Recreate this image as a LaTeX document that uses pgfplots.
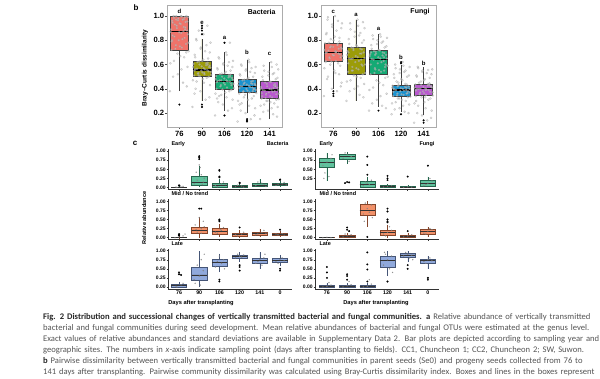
\documentclass[border=0pt]{standalone}
\usepackage{fontspec}
\usepackage{pgfplots}
\usepackage{pgfplotstable}
\pgfplotsset{compat=1.18}
\usepgfplotslibrary{statistics}
\newfontfamily\figfont{Liberation Sans}
\newfontfamily\capfont{Carlito}
\newcommand{\fb}[1]{\figfont\bfseries\fontsize{#1}{#1}\selectfont}
\definecolor{cR}{HTML}{F0736A}
\definecolor{cO}{HTML}{9C9C08}
\definecolor{cG}{HTML}{14AA74}
\definecolor{cB}{HTML}{1892D0}
\definecolor{cP}{HTML}{BA58D0}
\definecolor{eG}{HTML}{45B88C}
\definecolor{mO}{HTML}{F07E4F}
\definecolor{lB}{HTML}{7D9AD6}
\definecolor{capgray}{HTML}{555555}

\pgfplotstableread{
o b1 b2 b3 b4 b5 f1 f2 f3 f4 f5
-0.42 0.38 0.25 0.18 0.13 0.15 0.34 0.30 0.22 0.19 0.12
0.16 0.45 0.31 0.22 0.15 0.19 0.38 0.35 0.26 0.21 0.14
-0.07 0.52 0.38 0.27 0.20 0.22 0.40 0.40 0.31 0.24 0.18
0.36 0.58 0.43 0.31 0.24 0.25 0.45 0.44 0.36 0.27 0.22
-0.24 0.63 0.46 0.34 0.28 0.27 0.50 0.47 0.41 0.29 0.26
0.04 0.67 0.48 0.37 0.31 0.29 0.55 0.50 0.45 0.31 0.29
0.30 0.70 0.50 0.39 0.34 0.31 0.59 0.52 0.49 0.33 0.32
-0.35 0.72 0.51 0.40 0.36 0.32 0.62 0.54 0.52 0.34 0.34
0.11 0.74 0.52 0.41 0.37 0.33 0.63 0.56 0.54 0.35 0.35
-0.16 0.76 0.53 0.43 0.38 0.35 0.65 0.58 0.57 0.36 0.36
0.40 0.78 0.54 0.44 0.39 0.36 0.67 0.60 0.59 0.37 0.37
-0.03 0.80 0.55 0.45 0.40 0.37 0.68 0.62 0.61 0.38 0.38
0.23 0.82 0.555 0.46 0.41 0.38 0.69 0.64 0.63 0.39 0.39
-0.30 0.84 0.56 0.465 0.42 0.39 0.70 0.65 0.645 0.395 0.40
0.08 0.86 0.57 0.47 0.425 0.395 0.71 0.66 0.65 0.40 0.405
-0.39 0.87 0.58 0.48 0.43 0.40 0.72 0.68 0.67 0.41 0.41
0.34 0.88 0.59 0.49 0.44 0.41 0.74 0.70 0.68 0.42 0.42
-0.11 0.90 0.60 0.50 0.45 0.42 0.75 0.72 0.69 0.43 0.43
0.19 0.91 0.61 0.51 0.46 0.43 0.77 0.73 0.70 0.44 0.44
-0.20 0.93 0.62 0.52 0.47 0.45 0.78 0.74 0.71 0.46 0.45
0.01 0.94 0.63 0.53 0.48 0.46 0.80 0.76 0.72 0.48 0.47
0.27 0.95 0.65 0.55 0.50 0.48 0.82 0.78 0.74 0.50 0.49
-0.32 0.96 0.68 0.57 0.52 0.50 0.85 0.81 0.76 0.52 0.51
0.14 0.97 0.71 0.59 0.54 0.52 0.88 0.84 0.78 0.54 0.53
-0.05 0.98 0.74 0.61 0.56 0.54 0.91 0.87 0.80 0.56 0.55
0.38 0.99 0.78 0.63 0.58 0.56 0.94 0.90 0.82 0.58 0.56
-0.26 1.00 0.81 0.66 0.60 0.59 0.97 0.94 0.84 0.60 0.58
0.07 1.00 0.85 0.70 0.64 0.62 1.00 0.97 0.85 0.62 0.33
-0.14 1.00 0.88 0.35 0.33 0.30 0.60 0.55 0.56 0.32 0.40
0.24 0.99 0.92 0.78 0.44 0.44 0.73 0.69 0.66 0.41 0.43
}\bdata

\pgfplotstableread{
o b1 b2 b3 b4 b5 f1 f2 f3 f4 f5
0.33 0.42 0.33 0.24 0.18 0.17 0.42 0.33 0.24 0.20 0.16
-0.28 0.50 0.40 0.29 0.22 0.21 0.48 0.38 0.28 0.23 0.20
0.09 0.56 0.45 0.33 0.26 0.24 0.53 0.42 0.34 0.26 0.24
-0.40 0.61 0.47 0.36 0.30 0.26 0.57 0.46 0.39 0.28 0.28
0.21 0.66 0.49 0.38 0.32 0.28 0.61 0.49 0.43 0.30 0.31
-0.09 0.69 0.505 0.395 0.35 0.30 0.625 0.51 0.47 0.32 0.33
0.41 0.71 0.515 0.405 0.365 0.315 0.64 0.53 0.50 0.335 0.345
-0.18 0.73 0.525 0.42 0.375 0.325 0.66 0.55 0.53 0.345 0.355
0.02 0.75 0.535 0.435 0.385 0.34 0.675 0.57 0.555 0.355 0.365
0.29 0.77 0.545 0.445 0.395 0.355 0.685 0.59 0.58 0.365 0.375
-0.34 0.79 0.55 0.455 0.405 0.365 0.695 0.61 0.60 0.375 0.385
0.13 0.81 0.56 0.462 0.415 0.375 0.705 0.63 0.62 0.385 0.395
-0.22 0.83 0.565 0.468 0.42 0.385 0.715 0.645 0.64 0.39 0.40
0.37 0.85 0.575 0.475 0.43 0.39 0.73 0.655 0.65 0.40 0.41
-0.01 0.865 0.585 0.485 0.435 0.40 0.745 0.67 0.66 0.405 0.415
0.18 0.875 0.595 0.495 0.445 0.405 0.76 0.69 0.675 0.415 0.425
-0.37 0.89 0.605 0.505 0.455 0.415 0.775 0.71 0.685 0.425 0.435
0.26 0.905 0.615 0.515 0.465 0.425 0.79 0.725 0.695 0.435 0.445
-0.12 0.92 0.625 0.525 0.475 0.44 0.81 0.735 0.705 0.45 0.46
0.06 0.935 0.64 0.54 0.49 0.455 0.83 0.75 0.715 0.47 0.48
-0.30 0.945 0.66 0.56 0.51 0.47 0.86 0.77 0.73 0.49 0.50
0.35 0.955 0.70 0.58 0.53 0.49 0.90 0.80 0.75 0.51 0.52
-0.06 0.965 0.73 0.60 0.55 0.51 0.93 0.83 0.77 0.53 0.54
0.20 0.975 0.76 0.62 0.57 0.53 0.96 0.86 0.79 0.55 0.555
-0.24 0.985 0.80 0.65 0.59 0.55 0.99 0.89 0.81 0.57 0.57
0.10 0.995 0.53 0.68 0.62 0.58 0.70 0.92 0.83 0.59 0.39
0.31 1.00 0.58 0.43 0.40 0.60 0.66 0.95 0.60 0.38 0.42
-0.15 0.97 0.51 0.47 0.44 0.36 0.74 0.65 0.68 0.42 0.37
0.25 0.89 0.60 0.50 0.38 0.42 0.52 0.60 0.55 0.36 0.44
-0.33 0.80 0.36 0.32 0.27 0.34 0.63 0.70 0.70 0.40 0.30
}\bdataB

% boxplot helpers
\newcommand{\bbox}[7]{\addplot[boxplot prepared={draw position=#1, lower whisker=#2, lower quartile=#3, median=#4, upper quartile=#5, upper whisker=#6}, draw=black!75, line width=0.4pt, fill=#7] coordinates {};}
\newcommand{\cbox}[7]{\addplot[boxplot prepared={draw position=#1, lower whisker=#2, lower quartile=#3, median=#4, upper quartile=#5, upper whisker=#6}, draw=#7!55!black, line width=0.35pt, fill=#7, fill opacity=0.85] coordinates {};}

\pgfplotsset{
  bax/.style={scale only axis, width=115pt, height=122pt, xmin=0.45, xmax=5.55, ymin=0.085, ymax=1.091,
    xtick={1,2,3,4,5}, xticklabels={76,90,106,120,141},
    ytick={0.2,0.4,0.6,0.8,1.0}, yticklabels={0.2,0.4,0.6,0.8,1.0},
    axis line style={draw=gray!65, line width=0.7pt},
    tick align=outside, tick pos=left, major tick length=1.6pt,
    tick style={black!70, line width=0.4pt},
    xticklabel style={font=\fb{7.6}, inner sep=1pt, yshift=-1pt},
    yticklabel style={font=\fb{7.6}, inner sep=1pt},
    boxplot/draw direction=y, boxplot/box extend=0.8, boxplot/whisker extend=0,
    boxplot/every median/.style={line width=1.1pt, black},
    clip=false},
  jit/.style={only marks, mark=*, mark size=1.1pt, mark options={fill=gray!40, draw=gray!85, line width=0.2pt}, opacity=0.55},
  outl/.style={only marks, mark=*, mark size=0.8pt, black},
  cax/.style={scale only axis, width=124pt, height=40pt, ymin=-0.05, ymax=1.05,
    axis lines=left, axis line style={-, black!80, line width=0.45pt},
    ytick={0,0.25,0.5,0.75,1}, yticklabels={0.00,0.25,0.50,0.75,1.00},
    xtick={1,2,3,4,5,6}, xticklabels={},
    tick align=outside, major tick length=1.3pt, tick style={black!80, line width=0.4pt},
    yticklabel style={font=\fb{5}, inner sep=0.8pt},
    xticklabel style={font=\fb{5.3}, inner sep=1pt},
    boxplot/draw direction=y, boxplot/box extend=0.75, boxplot/whisker extend=0,
    boxplot/every median/.style={line width=0.8pt, black!80},
    clip=false},
  cjit/.style={only marks, mark=*, mark size=0.6pt, mark options={fill=gray!60, draw=black!60, line width=0.15pt}, opacity=0.7},
  cout/.style={only marks, mark=*, mark size=0.75pt, black}
}
\newcommand{\capline}[1]{\makebox[554pt][s]{#1}\par}

\begin{document}
\begin{tikzpicture}[x=1pt,y=1pt]
\path[use as bounding box, fill=white] (0,0) rectangle (600,379);

% ---------------- panel b ----------------
\node[font=\fb{8}, anchor=center] at (136,371) {b};
\node[font=\fb{6.5}, rotate=90] at (145,311) {Bray–Curtis dissimilarity};

\begin{axis}[bax, at={(167pt,252pt)}, anchor=south west]
\bbox{1}{0.38}{0.72}{0.87}{1.0}{1.0}{cR}
\bbox{2}{0.30}{0.50}{0.555}{0.625}{0.81}{cO}
\bbox{3}{0.22}{0.40}{0.46}{0.52}{0.70}{cG}
\bbox{4}{0.20}{0.37}{0.42}{0.48}{0.64}{cB}
\bbox{5}{0.15}{0.32}{0.39}{0.46}{0.62}{cP}
\addplot[jit] table[x expr=\thisrow{o}+1, y=b1] {\bdata};
\addplot[jit] table[x expr=\thisrow{o}+2, y=b2] {\bdata};
\addplot[jit] table[x expr=\thisrow{o}+3, y=b3] {\bdata};
\addplot[jit] table[x expr=\thisrow{o}+4, y=b4] {\bdata};
\addplot[jit] table[x expr=\thisrow{o}+5, y=b5] {\bdata};
\addplot[jit] table[x expr=\thisrow{o}+1, y=b1] {\bdataB};
\addplot[jit] table[x expr=\thisrow{o}+2, y=b2] {\bdataB};
\addplot[jit] table[x expr=\thisrow{o}+3, y=b3] {\bdataB};
\addplot[jit] table[x expr=\thisrow{o}+4, y=b4] {\bdataB};
\addplot[jit] table[x expr=\thisrow{o}+5, y=b5] {\bdataB};
\addplot[outl] coordinates {(1,0.27) (2,0.25) (2,0.27) (2,0.85) (2,0.88) (2,0.90) (2,0.92) (3,0.78) (3,0.18) (4,0.15) (4,0.13) (4,0.14)};
\node[font=\fb{6}] at (axis cs:1,1.035) {d};
\node[font=\fb{6}] at (axis cs:2,0.94) {e};
\node[font=\fb{6}] at (axis cs:3,0.82) {a};
\node[font=\fb{6}] at (axis cs:4,0.70) {b};
\node[font=\fb{6}] at (axis cs:5,0.69) {c};
\node[font=\fb{7}, anchor=east] at (axis cs:5.42,1.035) {Bacteria};
\end{axis}

\begin{axis}[bax, at={(321pt,252pt)}, anchor=south west]
\bbox{1}{0.40}{0.63}{0.70}{0.78}{1.0}{cR}
\bbox{2}{0.30}{0.52}{0.65}{0.74}{0.97}{cO}
\bbox{3}{0.25}{0.52}{0.645}{0.72}{0.85}{cG}
\bbox{4}{0.21}{0.34}{0.39}{0.43}{0.60}{cB}
\bbox{5}{0.18}{0.35}{0.40}{0.44}{0.58}{cP}
\addplot[jit] table[x expr=\thisrow{o}+1, y=f1] {\bdata};
\addplot[jit] table[x expr=\thisrow{o}+2, y=f2] {\bdata};
\addplot[jit] table[x expr=\thisrow{o}+3, y=f3] {\bdata};
\addplot[jit] table[x expr=\thisrow{o}+4, y=f4] {\bdata};
\addplot[jit] table[x expr=\thisrow{o}+5, y=f5] {\bdata};
\addplot[jit] table[x expr=\thisrow{o}+1, y=f1] {\bdataB};
\addplot[jit] table[x expr=\thisrow{o}+2, y=f2] {\bdataB};
\addplot[jit] table[x expr=\thisrow{o}+3, y=f3] {\bdataB};
\addplot[jit] table[x expr=\thisrow{o}+4, y=f4] {\bdataB};
\addplot[jit] table[x expr=\thisrow{o}+5, y=f5] {\bdataB};
\addplot[outl] coordinates {(1,0.38) (1,0.36) (1,0.34) (3,0.22) (4,0.62) (4,0.61) (4,0.19) (5,0.14) (5,0.12)};
\node[font=\fb{6}] at (axis cs:1,1.03) {c};
\node[font=\fb{6}] at (axis cs:2,1.01) {a};
\node[font=\fb{6}] at (axis cs:3,0.89) {a};
\node[font=\fb{6}] at (axis cs:4,0.66) {b};
\node[font=\fb{6}] at (axis cs:5,0.61) {b};
\node[font=\fb{7}, anchor=east] at (axis cs:5.42,1.035) {Fungi};
\end{axis}

% ---------------- panel c ----------------
\node[font=\fb{8}, anchor=center] at (135,236) {c};
\node[font=\fb{5.6}, rotate=90] at (144,161) {Relative abundance};
\node[font=\fb{5.5}, anchor=base west] at (168,233) {Early};
\node[font=\fb{5.5}, anchor=base east] at (292,233) {Bacteria};
\node[font=\fb{5.5}, anchor=base west] at (168,183) {Mid / No trend};
\node[font=\fb{5.5}, anchor=base west] at (168,133) {Late};
\node[font=\fb{5.5}, anchor=base west] at (316,233) {Early};
\node[font=\fb{5.5}, anchor=base east] at (438,233) {Fungi};
\node[font=\fb{5.5}, anchor=base west] at (316,183) {Mid / No trend};
\node[font=\fb{5.5}, anchor=base west] at (316,133) {Late};
\node[font=\fb{5.7}] at (201,76) {Days after transplanting};
\node[font=\fb{5.7}] at (376,76) {Days after transplanting};

% Bacteria early
\begin{axis}[cax, at={(168pt,189.7pt)}, anchor=south west, xmin=0.455, xmax=6.59]
\cbox{1}{0}{0.003}{0.01}{0.02}{0.04}{eG}
\cbox{2}{0}{0.05}{0.15}{0.30}{0.58}{eG}
\cbox{3}{0}{0.02}{0.07}{0.12}{0.22}{eG}
\cbox{4}{0}{0.01}{0.03}{0.05}{0.09}{eG}
\cbox{5}{0}{0.03}{0.07}{0.12}{0.22}{eG}
\cbox{6}{0.01}{0.05}{0.08}{0.12}{0.18}{eG}
\addplot[cjit] coordinates {(0.85,0.01) (1.1,0.02) (1.2,0.03) (0.9,0.0) (1.05,0.05) (1.75,0.1) (1.9,0.2) (2.1,0.35) (2.2,0.15) (2.05,0.55) (1.85,0.42) (2.25,0.25) (2.0,0.62) (2.15,0.08) (2.8,0.05) (3.1,0.1) (3.2,0.15) (2.9,0.02) (3.3,0.08) (3.8,0.02) (4.1,0.04) (4.2,0.01) (3.9,0.06) (4.8,0.05) (5.1,0.12) (5.2,0.08) (4.9,0.15) (5.3,0.03) (5.8,0.06) (6.1,0.1) (6.2,0.14) (5.9,0.09) (6.3,0.07)};
\addplot[cout] coordinates {(1,0.06) (1,0.05) (2,0.78) (2,0.82) (2,0.86) (3,0.30) (3,0.46) (3,0.48) (3,0.28) (4,0.12) (4,0.13) (6,0.22) (6,0.21)};
\end{axis}

% Bacteria mid
\begin{axis}[cax, at={(168pt,139.5pt)}, anchor=south west, xmin=0.455, xmax=6.59]
\cbox{1}{0}{0.003}{0.01}{0.02}{0.04}{mO}
\cbox{2}{0}{0.12}{0.20}{0.30}{0.58}{mO}
\cbox{3}{0.01}{0.10}{0.17}{0.25}{0.38}{mO}
\cbox{4}{0}{0.04}{0.08}{0.12}{0.20}{mO}
\cbox{5}{0.02}{0.07}{0.11}{0.15}{0.25}{mO}
\cbox{6}{0.02}{0.06}{0.09}{0.12}{0.18}{mO}
\addplot[cjit] coordinates {(0.8,0.0) (1.0,0.02) (1.2,0.05) (1.3,0.1) (1.9,0.15) (2.1,0.25) (1.8,0.35) (2.2,0.45) (2.0,0.55) (2.1,0.12) (1.85,0.22) (2.25,0.3) (2.9,0.12) (3.1,0.2) (3.2,0.28) (2.8,0.15) (3.05,0.22) (3.9,0.05) (4.1,0.1) (4.2,0.15) (3.8,0.08) (4.9,0.1) (5.1,0.14) (5.2,0.2) (4.8,0.08) (5.3,0.12) (5.9,0.08) (6.1,0.11) (6.2,0.07) (5.8,0.1)};
\addplot[cout] coordinates {(1,0.06) (1,0.08) (1,0.10) (2,0.80) (2.1,0.80) (3,0.48) (3,0.50) (3,0.45) (4,0.28) (6,0.22)};
\end{axis}

% Bacteria late
\begin{axis}[cax, at={(168pt,90.2pt)}, anchor=south west, xmin=0.455, xmax=6.59, xticklabels={76,90,106,120,141,0}]
\cbox{1}{0}{0.0}{0.03}{0.08}{0.15}{lB}
\cbox{2}{0}{0.20}{0.33}{0.55}{0.98}{lB}
\cbox{3}{0.40}{0.58}{0.68}{0.77}{0.92}{lB}
\cbox{4}{0.70}{0.78}{0.84}{0.88}{0.95}{lB}
\cbox{5}{0.50}{0.65}{0.73}{0.80}{0.95}{lB}
\cbox{6}{0.58}{0.68}{0.73}{0.78}{0.88}{lB}
\addplot[cjit] coordinates {(0.85,0.02) (1.1,0.06) (1.2,0.1) (0.9,0.0) (1.8,0.1) (2.0,0.3) (2.2,0.45) (1.9,0.6) (2.1,0.75) (2.25,0.9) (1.75,0.2) (2.05,0.05) (2.8,0.55) (3.1,0.65) (3.2,0.75) (2.9,0.7) (3.25,0.5) (3.0,0.85) (3.8,0.8) (4.0,0.85) (4.2,0.88) (4.1,0.82) (3.9,0.9) (4.8,0.65) (5.0,0.75) (5.2,0.8) (4.9,0.7) (5.25,0.9) (5.1,0.6) (5.8,0.7) (6.0,0.75) (6.2,0.72) (6.1,0.8) (5.9,0.65)};
\addplot[cout] coordinates {(1,0.35) (1,0.40) (1.1,0.33) (3,0.20) (3,0.15) (4,0.60) (4,0.55) (4,0.45) (6,0.50) (6,0.45)};
\end{axis}

% Fungi early
\begin{axis}[cax, at={(315pt,189.7pt)}, anchor=south west, xmin=0.41, xmax=6.55, ytick={0.25,0.5,0.75,1}, yticklabels={0.25,0.50,0.75,1.00}]
\cbox{1}{0.18}{0.55}{0.68}{0.80}{0.95}{eG}
\cbox{2}{0.65}{0.78}{0.85}{0.92}{0.98}{eG}
\cbox{3}{0}{0.02}{0.08}{0.17}{0.30}{eG}
\cbox{4}{0}{0.0}{0.02}{0.05}{0.10}{eG}
\cbox{5}{0}{0.0}{0.01}{0.03}{0.06}{eG}
\cbox{6}{0}{0.03}{0.10}{0.20}{0.30}{eG}
\addplot[cjit] coordinates {(0.8,0.6) (1.0,0.7) (1.2,0.8) (0.9,0.4) (1.1,0.3) (1.25,0.9) (0.85,0.25) (1.8,0.8) (2.0,0.9) (2.2,0.85) (1.9,0.95) (2.1,0.72) (2.8,0.05) (3.0,0.12) (3.2,0.2) (3.1,0.08) (2.9,0.15) (3.8,0.01) (4.0,0.03) (4.2,0.05) (4.8,0.0) (5.0,0.02) (5.2,0.01) (5.8,0.05) (6.0,0.12) (6.2,0.18) (6.1,0.25) (5.9,0.08)};
\addplot[cout] coordinates {(1.9,0.12) (2,0.15) (2.1,0.14) (3,0.85) (3,0.62) (3,0.35) (4,0.32) (4,0.25) (4,0.20) (5,0.30) (6,0.60)};
\end{axis}

% Fungi mid
\begin{axis}[cax, at={(315pt,139.5pt)}, anchor=south west, xmin=0.41, xmax=6.55]
\cbox{1}{0}{0}{0.005}{0.01}{0.02}{mO}
\cbox{2}{0}{0.01}{0.04}{0.06}{0.12}{mO}
\cbox{3}{0.30}{0.62}{0.75}{0.92}{1.0}{mO}
\cbox{4}{0}{0.08}{0.14}{0.20}{0.35}{mO}
\cbox{5}{0}{0.01}{0.04}{0.07}{0.12}{mO}
\cbox{6}{0.02}{0.10}{0.16}{0.22}{0.30}{mO}
\addplot[cjit] coordinates {(0.8,0.0) (1.0,0.01) (1.2,0.0) (1.8,0.02) (2.0,0.05) (2.2,0.08) (1.9,0.1) (2.8,0.65) (3.0,0.8) (3.2,0.9) (2.9,0.95) (3.1,0.7) (3.25,0.55) (2.85,0.45) (3.8,0.1) (4.0,0.15) (4.2,0.2) (4.1,0.3) (3.9,0.05) (4.8,0.02) (5.0,0.05) (5.2,0.08) (5.8,0.12) (6.0,0.18) (6.2,0.22) (6.1,0.25) (5.9,0.1)};
\addplot[cout] coordinates {(2,0.28) (2,0.22) (2.1,0.18) (3,0.02) (4,0.80) (4,0.72) (4,0.50) (4,0.45) (4,0.42) (5,0.18)};
\end{axis}

% Fungi late
\begin{axis}[cax, at={(315pt,90.2pt)}, anchor=south west, xmin=0.41, xmax=6.55, xticklabels={76,90,106,120,141,0}]
\cbox{1}{0}{0}{0.01}{0.05}{0.10}{lB}
\cbox{2}{0}{0}{0.01}{0.04}{0.10}{lB}
\cbox{3}{0}{0}{0.01}{0.05}{0.10}{lB}
\cbox{4}{0.30}{0.55}{0.72}{0.85}{1.0}{lB}
\cbox{5}{0.70}{0.82}{0.88}{0.93}{1.0}{lB}
\cbox{6}{0.50}{0.65}{0.72}{0.77}{0.85}{lB}
\addplot[cjit] coordinates {(0.8,0.0) (1.0,0.02) (1.2,0.05) (1.1,0.12) (1.8,0.0) (2.0,0.03) (2.2,0.06) (2.1,0.15) (2.8,0.0) (3.0,0.02) (3.2,0.08) (3.1,0.2) (3.8,0.6) (4.0,0.75) (4.2,0.85) (3.9,0.9) (4.1,0.5) (4.25,0.4) (3.85,0.95) (4.8,0.85) (5.0,0.9) (5.2,0.88) (4.9,0.95) (5.1,0.8) (5.25,0.75) (5.8,0.7) (6.0,0.75) (6.2,0.72) (5.9,0.65) (6.1,0.8)};
\addplot[cout] coordinates {(1,0.55) (1,0.40) (1,0.25) (2,0.35) (2,0.30) (2,0.20) (3,0.95) (3,0.62) (3,0.48) (3,0.15) (4,0.15) (5,0.60) (5,0.50) (6,0.25) (6,0.20)};
\end{axis}

% ---------------- caption ----------------
\node[anchor=north west, inner sep=0pt, text width=554pt, align=left,
      font=\capfont\fontsize{8.6}{10.9}\selectfont, text=capgray] at (43,65.5) {%
\capline{{\bfseries\color{black!85}Fig. 2 Distribution and successional changes of vertically transmitted bacterial and fungal communities. a} Relative abundance of vertically transmitted}
\capline{bacterial and fungal communities during seed development. Mean relative abundances of bacterial and fungal OTUs were estimated at the genus level.}
\capline{Exact values of relative abundances and standard deviations are available in Supplementary Data 2. Bar plots are depicted according to sampling year and}
\capline{geographic sites. The numbers in \textit{x}-axis indicate sampling point (days after transplanting to fields). CC1, Chuncheon 1; CC2, Chuncheon 2; SW, Suwon.}
\capline{{\bfseries\color{black!85}b} Pairwise dissimilarity between vertically transmitted bacterial and fungal communities in parent seeds (Se0) and progeny seeds collected from 76 to}
\capline{141 days after transplanting. Pairwise community dissimilarity was calculated using Bray-Curtis dissimilarity index. Boxes and lines in the boxes represent}};
\end{tikzpicture}
\end{document}
